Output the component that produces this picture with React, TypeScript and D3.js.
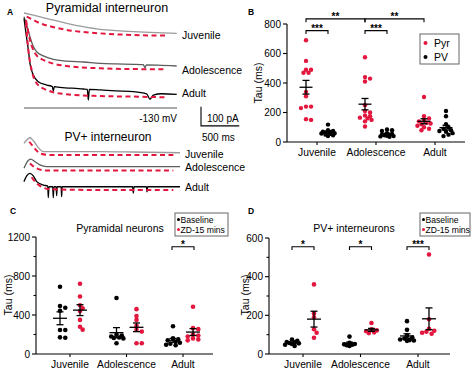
import React from "react";
import * as d3 from "d3";

const RED = "#e3173e";
const FONT = "Liberation Sans, Arial, Helvetica, sans-serif";

const ages = ["Juvenile", "Adolescence", "Adult"];

// ---- panel A: traces, [time ms, current pA]
const pyrJuvenile = [[0, 0], [122, -11], [340, -33], [558, -54], [775, -72], [993, -86], [1211, -93], [1429, -98], [1647, -102], [1996, -107]];
const pyrJuvenileFit = [[35, -19], [100, -32], [209, -54], [340, -70], [558, -89], [775, -100], [993, -107], [1429, -116], [1865, -119]];
const pyrAdolescence = [[0, -19], [35, -63], [78, -125], [122, -177], [166, -204], [253, -226], [383, -244], [558, -253], [775, -258], [993, -265], [1200, -268], [1429, -270], [1560, -272], [1581, -288], [1600, -273], [1750, -274], [1996, -279]];
const pyrAdolescenceFit = [[26, -37], [78, -142], [144, -212], [253, -247], [558, -279], [993, -291], [1429, -295], [1865, -296]];
const pyrAdult = [[0, -28], [26, -107], [57, -195], [78, -265], [122, -326], [187, -362], [296, -379], [370, -387], [383, -410], [396, -388], [470, -391], [775, -400], [828, -402], [841, -458], [854, -402], [993, -405], [1200, -410], [1429, -414], [1603, -426], [1647, -454], [1690, -432], [1800, -425], [1996, -428]];
const pyrAdultFit = [[26, -54], [57, -195], [100, -300], [166, -370], [296, -405], [558, -428], [993, -437], [1429, -440], [1865, -444]];

const pvJuvenile = [[0, -54], [35, -37], [78, -25], [122, -41], [187, -77], [253, -98], [558, -98], [993, -98], [1429, -100], [2039, -104]];
const pvJuvenileFit = [[70, -46], [122, -72], [209, -107], [340, -116], [993, -116], [1952, -116]];
const pvAdolescence = [[0, -186], [35, -156], [87, -138], [144, -151], [209, -168], [296, -177], [993, -177], [2039, -177]];
const pvAdolescenceFit = [[78, -160], [166, -186], [296, -198], [993, -198], [1952, -198]];
const pvAdult = [[0, -256], [35, -226], [78, -212], [122, -226], [166, -256], [253, -274], [310, -280], [318, -340], [326, -282], [375, -283], [383, -340], [391, -283], [420, -283], [427, -330], [434, -283], [485, -283], [492, -335], [499, -283], [558, -283], [993, -283], [1420, -283], [1429, -316], [1438, -283], [1600, -283], [1608, -310], [1616, -283], [2039, -283]];
const pvAdultFit = [[100, -233], [166, -265], [340, -296], [993, -300], [1952, -300]];

// ---- panel B: tau (ms)
const pyrTau = [
  [690, 550, 490, 490, 470, 470, 340, 310, 240, 240, 230, 155, 150],
  [575, 440, 430, 410, 250, 210, 200, 180, 175, 165, 160, 150, 140, 105],
  [305, 175, 160, 150, 140, 130, 125, 120, 110, 100, 90, 80],
];
const pvTau = [
  [118, 80, 75, 70, 68, 65, 62, 60, 58, 55, 50, 45, 40],
  [85, 80, 75, 60, 55, 50, 48, 45, 42, 40, 38, 35],
  [210, 175, 120, 100, 90, 80, 75, 70, 60, 50, 40],
];
const bTicks = [0, 200, 400, 600, 800];

// ---- panel C: pyramidal neurons
const pyrBaseline = [
  [690, 492, 475, 444, 246, 246, 167, 171],
  [575, 200, 190, 180, 170, 165, 160, 110],
  [285, 160, 150, 140, 125, 115, 105, 95, 90],
];
const pyrZD = [
  [720, 590, 500, 470, 440, 350, 280, 250],
  [460, 390, 350, 290, 250, 230, 110, 110],
  [485, 265, 255, 200, 190, 180, 160, 150, 140],
];
const cTicks = [0, 400, 800, 1200];
const cMinor = [200, 600, 1000];

// ---- panel D: PV+ interneurons
const pvBaseline = [
  [75, 68, 62, 60, 57, 55, 52, 48, 42],
  [90, 58, 52, 50, 48, 45, 42],
  [170, 125, 95, 85, 80, 75, 72, 70, 68],
];
const pvZD = [
  [360, 210, 190, 128, 110, 84],
  [160, 128, 122, 118, 112, 108],
  [515, 180, 130, 120, 115, 110, 105],
];
const dTicks = [0, 200, 400, 600];
const dMinor = [100, 300, 500];

type Scale = (v: number) => number;

// compact scatter: a few columns at most, overlap allowed like the original
function swarm(vals: number[], y: Scale, r: number) {
  const order = vals.map((_, i) => i).sort((a, b) => vals[b] - vals[a]);
  const placed: { x: number; y: number }[] = [];
  const out = new Array(vals.length).fill(0);
  const step = r * 1.15;
  const cands = [0, step, -step, 2 * step, -2 * step, 2.6 * step, -2.6 * step];
  for (const i of order) {
    const py = y(vals[i]);
    let best = 0;
    let bestD = -1;
    for (const off of cands) {
      const dmin = placed.length ? d3.min(placed, (p) => Math.hypot(p.x - off, p.y - py)) as number : 99;
      if (dmin >= r * 1.6) { best = off; bestD = 99; break; }
      if (dmin > bestD) { bestD = dmin; best = off; }
    }
    out[i] = best;
    placed.push({ x: best, y: py });
  }
  return out;
}

function Group({ vals, cx, y, color, r, meanW }: { vals: number[]; cx: number; y: Scale; color: string; r: number; meanW: number }) {
  const offs = swarm(vals, y, r);
  const m = d3.mean(vals) as number;
  const sem = (d3.deviation(vals) as number) / Math.sqrt(vals.length);
  return (
    <g>
      {vals.map((v, i) => (
        <circle key={i} cx={cx + offs[i]} cy={y(v)} r={r} fill={color} />
      ))}
      <g stroke="#000" strokeWidth={1.3}>
        <line x1={cx - meanW / 2} x2={cx + meanW / 2} y1={y(m)} y2={y(m)} />
        <line x1={cx} x2={cx} y1={y(m - sem)} y2={y(m + sem)} />
        <line x1={cx - 3.5} x2={cx + 3.5} y1={y(m + sem)} y2={y(m + sem)} />
        <line x1={cx - 3.5} x2={cx + 3.5} y1={y(m - sem)} y2={y(m - sem)} />
      </g>
    </g>
  );
}

function Bracket({ x1, x2, yy, label }: { x1: number; x2: number; yy: number; label: string }) {
  return (
    <g>
      <path d={`M${x1},${yy + 3.3}V${yy}H${x2}V${yy + 3.3}`} fill="none" stroke="#000" strokeWidth={1.1} />
      <text x={(x1 + x2) / 2} y={yy + 1.5} textAnchor="middle" fontSize={10} fontWeight="bold">{label}</text>
    </g>
  );
}

function YAxis({ x, y, ticks, minor, y0, y1, labelX, labelY }: { x: number; y: Scale; ticks: number[]; minor: number[]; y0: number; y1: number; labelX: number; labelY: number }) {
  return (
    <g>
      <line x1={x} x2={x} y1={y0} y2={y1} stroke="#000" strokeWidth={1.1} />
      {ticks.map((t) => (
        <g key={t}>
          <line x1={x - 4} x2={x} y1={y(t)} y2={y(t)} stroke="#000" strokeWidth={1.1} />
          <text x={x - 6} y={y(t)} dy="0.35em" textAnchor="end" fontSize={10}>{t}</text>
        </g>
      ))}
      {minor.map((t) => (
        <line key={t} x1={x - 2.5} x2={x} y1={y(t)} y2={y(t)} stroke="#000" strokeWidth={1.1} />
      ))}
      <text transform={`translate(${labelX},${labelY}) rotate(-90)`} textAnchor="middle" fontSize={10.5}>Tau (ms)</text>
    </g>
  );
}

function XAxis({ x0, x1, yy, centers }: { x0: number; x1: number; yy: number; centers: d3.ScalePoint<string> }) {
  return (
    <g>
      <line x1={x0} x2={x1} y1={yy} y2={yy} stroke="#000" strokeWidth={1.1} />
      {ages.map((a) => (
        <g key={a}>
          <line x1={centers(a)} x2={centers(a)} y1={yy} y2={yy + 3} stroke="#000" strokeWidth={1.1} />
          <text x={centers(a)} y={yy + 14} textAnchor="middle" fontSize={10.3}>{a}</text>
        </g>
      ))}
    </g>
  );
}

function Legend2({ x, y, w, h }: { x: number; y: number; w: number; h: number }) {
  return (
    <g fontSize={8.6}>
      <rect x={x} y={y} width={w} height={h} fill="#fff" stroke="#666" strokeWidth={1} />
      <circle cx={x + 3.5} cy={y + 6.5} r={1.5} fill="#000" />
      <text x={x + 5.5} y={y + 9.5}>Baseline</text>
      <circle cx={x + 3.5} cy={y + 16.5} r={1.5} fill={RED} />
      <text x={x + 5.5} y={y + 19.5}>ZD-15 mins</text>
    </g>
  );
}

export default function App() {
  // panel A scales
  const xA = d3.scaleLinear().domain([0, 2000]).range([24, 177]);
  const yPyr = d3.scaleLinear().domain([0, -600]).range([13, 127]);
  const yPV = d3.scaleLinear().domain([0, -600]).range([133, 247]);
  const lineOf = (y: Scale) =>
    d3.line<number[]>().x((d) => xA(d[0])).y((d) => y(d[1])).curve(d3.curveMonotoneX);
  const lp = lineOf(yPyr);
  const lv = lineOf(yPV);
  const traces = [
    { d: lp(pyrJuvenile), c: "#9b9b9b" },
    { d: lp(pyrAdolescence), c: "#5a5f5a" },
    { d: lp(pyrAdult), c: "#000" },
    { d: lv(pvJuvenile), c: "#9b9b9b" },
    { d: lv(pvAdolescence), c: "#5a5f5a" },
    { d: lv(pvAdult), c: "#000" },
  ];
  const fits = [lp(pyrJuvenileFit), lp(pyrAdolescenceFit), lp(pyrAdultFit), lv(pvJuvenileFit), lv(pvAdolescenceFit), lv(pvAdultFit)];

  // panel B
  const yB = d3.scaleLinear().domain([0, 800]).range([142, 24]);
  const xB = d3.scalePoint<string>().domain(ages).range([317, 435]);
  // panel C
  const yC = d3.scaleLinear().domain([0, 1200]).range([354, 237]);
  const xC = d3.scalePoint<string>().domain(ages).range([70, 183]);
  // panel D
  const yD = d3.scaleLinear().domain([0, 600]).range([354, 238]);
  const xD = d3.scalePoint<string>().domain(ages).range([303, 418]);

  const barX = 201;
  const barY = yPyr(-494);

  return (
    <svg width={474} height={369} style={{ position: "absolute", left: 0, top: 0, background: "#fff" }} fontFamily={FONT}>
      <rect width={474} height={369} fill="#fff" />
      {/* ---- A ---- */}
      <text x={7} y={15} fontSize={8.5} fontWeight="bold">A</text>
      <text x={107} y={12} textAnchor="middle" fontSize={12.5}>Pyramidal interneuron</text>
      <text x={108} y={141} textAnchor="middle" fontSize={12}>PV+ interneuron</text>
      {traces.map((t, i) => (
        <path key={i} d={t.d || ""} fill="none" stroke={t.c} strokeWidth={1.3} />
      ))}
      {fits.map((d, i) => (
        <path key={i} d={d || ""} fill="none" stroke={RED} strokeWidth={2} strokeDasharray="5,3.5" />
      ))}
      <g fontSize={10.5}>
        <text x={182} y={35} dy="0.35em">Juvenile</text>
        <text x={182} y={70} dy="0.35em">Adolescence</text>
        <text x={182} y={93} dy="0.35em">Adult</text>
        <text x={185} y={154} dy="0.35em">Juvenile</text>
        <text x={185} y={167} dy="0.35em">Adolescence</text>
        <text x={185} y={187} dy="0.35em">Adult</text>
      </g>
      <line x1={xA(0)} x2={xA(2000)} y1={108} y2={108} stroke="#555" strokeWidth={1} />
      <text x={177} y={122} textAnchor="end" fontSize={10}>-130 mV</text>
      <path
        d={`M${barX},${barY}V${barY + (yPyr(-100) - yPyr(0))}H${barX + xA(500) - xA(0)}`}
        fill="none" stroke="#000" strokeWidth={1.1}
      />
      <text x={207} y={122} fontSize={10}>100 pA</text>
      <text x={202} y={141} fontSize={10}>500 ms</text>

      {/* ---- B ---- */}
      <text x={248} y={15} fontSize={8.5} fontWeight="bold">B</text>
      <YAxis x={287} y={yB} ticks={bTicks} minor={[]} y0={yB(800)} y1={yB(0)} labelX={262} labelY={83} />
      <XAxis x0={287} x1={465} yy={yB(0)} centers={xB} />
      {ages.map((a, i) => (
        <g key={a}>
          <Group vals={pyrTau[i]} cx={(xB(a) as number) - 11} y={yB} color={RED} r={2.2} meanW={13} />
          <Group vals={pvTau[i]} cx={(xB(a) as number) + 11} y={yB} color="#000" r={2.2} meanW={13} />
        </g>
      ))}
      <Bracket x1={(xB("Juvenile") as number) - 11} x2={(xB("Adolescence") as number) - 11} yy={yB(835)} label="**" />
      <Bracket x1={(xB("Adolescence") as number) - 11} x2={(xB("Adult") as number) - 11} yy={yB(835)} label="**" />
      <Bracket x1={(xB("Juvenile") as number) - 11} x2={(xB("Juvenile") as number) + 11} yy={yB(755)} label="***" />
      <Bracket x1={(xB("Adolescence") as number) - 11} x2={(xB("Adolescence") as number) + 11} yy={yB(755)} label="***" />
      <g fontSize={10.5}>
        <rect x={420} y={34} width={39} height={30} fill="#fff" stroke="#666" strokeWidth={1} />
        <circle cx={425.5} cy={43} r={2} fill={RED} />
        <text x={434} y={43} dy="0.35em">Pyr</text>
        <circle cx={425.5} cy={57} r={2} fill="#000" />
        <text x={434} y={57} dy="0.35em">PV</text>
      </g>

      {/* ---- C ---- */}
      <text x={10} y={214} fontSize={8.5} fontWeight="bold">C</text>
      <text x={120} y={232} textAnchor="middle" fontSize={10.5}>Pyramidal neurons</text>
      <YAxis x={36} y={yC} ticks={cTicks} minor={cMinor} y0={yC(1200)} y1={yC(0)} labelX={12} labelY={295} />
      <XAxis x0={36} x1={213} yy={yC(0)} centers={xC} />
      {ages.map((a, i) => (
        <g key={a}>
          <Group vals={pyrBaseline[i]} cx={(xC(a) as number) - 10} y={yC} color="#000" r={2.3} meanW={14} />
          <Group vals={pyrZD[i]} cx={(xC(a) as number) + 10} y={yC} color={RED} r={2.3} meanW={14} />
        </g>
      ))}
      <Bracket x1={(xC("Adult") as number) - 11} x2={(xC("Adult") as number) + 11} yy={yC(1100)} label="*" />
      <Legend2 x={175} y={213} w={53} h={23} />

      {/* ---- D ---- */}
      <text x={248} y={214} fontSize={8.5} fontWeight="bold">D</text>
      <text x={354} y={232} textAnchor="middle" fontSize={10.5}>PV+ interneurons</text>
      <YAxis x={269} y={yD} ticks={dTicks} minor={dMinor} y0={yD(600)} y1={yD(0)} labelX={249} labelY={295} />
      <XAxis x0={269} x1={450} yy={yD(0)} centers={xD} />
      {ages.map((a, i) => (
        <g key={a}>
          <Group vals={pvBaseline[i]} cx={(xD(a) as number) - 11} y={yD} color="#000" r={2.3} meanW={14} />
          <Group vals={pvZD[i]} cx={(xD(a) as number) + 11} y={yD} color={RED} r={2.3} meanW={14} />
        </g>
      ))}
      <Bracket x1={(xD("Juvenile") as number) - 11} x2={(xD("Juvenile") as number) + 11} yy={yD(555)} label="*" />
      <Bracket x1={(xD("Adolescence") as number) - 11} x2={(xD("Adolescence") as number) + 11} yy={yD(555)} label="*" />
      <Bracket x1={(xD("Adult") as number) - 11} x2={(xD("Adult") as number) + 11} yy={yD(555)} label="***" />
      <Legend2 x={420} y={213} w={50} h={23} />
    </svg>
  );
}
